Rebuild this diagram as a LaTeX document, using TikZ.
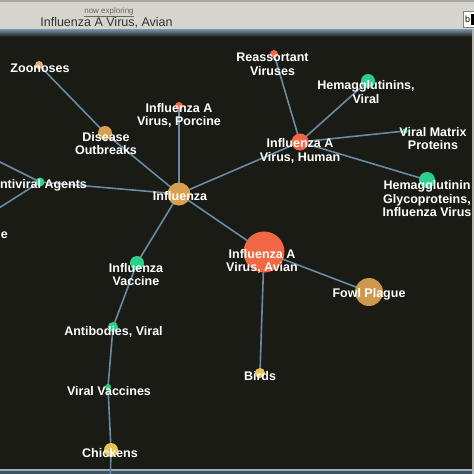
\documentclass[tikz,border=0pt]{standalone}
\usepackage{fontspec}
\setmainfont{Liberation Sans}
\pgfdeclarelayer{bg}
\pgfdeclarelayer{edges}
\pgfsetlayers{bg,edges,main}
\definecolor{bgdark}{HTML}{1B1B15}
\definecolor{barc}{HTML}{D5D5CD}
\definecolor{edgec}{HTML}{6A8AA2}
\definecolor{tanc}{HTML}{D9A052}
\definecolor{redc}{HTML}{F26844}
\definecolor{greenc}{HTML}{2ECF8C}
\definecolor{yellc}{HTML}{E8C452}
\begin{document}
\begin{tikzpicture}[x=1pt,y=-1pt,
  dot/.style={circle,inner sep=0pt,minimum size=#1},
  lbl/.style={text=white,font=\bfseries\fontsize{12.5}{13.5}\selectfont,align=center,inner sep=0pt},
  edge/.style={draw=edgec,line width=1.6pt}]
\useasboundingbox (0,0) rectangle (474,474);
\begin{pgfonlayer}{bg}
  \fill[bgdark] (0,0) rectangle (474,474);
  \fill[barc] (0,0) rectangle (474,29);
  \fill[gray!70] (0,0) rectangle (474,1.5);
  \shade[top color=edgec!90!white, bottom color=bgdark] (0,29) rectangle (474,37);
  \fill[edgec!60!black] (0,469) rectangle (474,474);
  \fill[edgec!70!white] (0,469) rectangle (474,470.5);
  \fill[barc!85!black] (471.5,29) rectangle (474,474);
  \draw[gray, fill=white] (463.5,11.5) rectangle (475,27.5);
  \fill[black] (471,14) rectangle (474,25);
\end{pgfonlayer}
% header texts
\node[text=gray!80!black, font=\fontsize{8}{9}\selectfont, inner sep=0pt] (nowexp) at (109,11) {now exploring};
\draw[gray!80!black, line width=0.5pt] (nowexp.south west) ++(0,1) -- ([yshift=-1pt]nowexp.south east);
\node[text=black!80, font=\fontsize{12.5}{13}\selectfont, inner sep=0pt] (title) at (106.5,22.5) {Influenza A Virus, Avian};
\node[font=\fontsize{9}{10}\selectfont, inner sep=0pt] (bbox) at (467.5,19.5) {b};

% dots
\node[dot=8, fill=tanc!85!white] (zoo) at (39,65) {};
\node[dot=14, fill=tanc] (dis) at (105,133) {};
\node[dot=8, fill=redc] (porc) at (179,106) {};
\node[dot=9, fill=greenc] (anti) at (40,182) {};
\node[dot=23, fill=tanc] (infl) at (179,194) {};
\node[dot=8, fill=redc] (reas) at (274,54) {};
\node[dot=14, fill=greenc] (hemv) at (368,81) {};
\node[dot=5, fill=greenc] (vmp) at (405,131) {};
\node[dot=17, fill=redc] (hum) at (300,142) {};
\node[dot=16, fill=greenc] (hemg) at (427,180) {};
\node[dot=41, fill=redc] (avian) at (264,252) {};
\node[dot=28, fill=tanc!95!black] (fowl) at (369,292) {};
\node[dot=10, fill=yellc] (birds) at (260,373) {};
\node[dot=14, fill=greenc] (vacc) at (137,263) {};
\node[dot=10, fill=greenc] (antib) at (113,327) {};
\node[dot=6, fill=greenc] (vvac) at (108,387) {};
\node[dot=14, fill=yellc] (chick) at (111,450) {};
\coordinate (offA) at (-20,152);
\coordinate (offB) at (-20,220);
\coordinate (offC) at (110,490);

% edges
\begin{pgfonlayer}{edges}
  \draw[edge] (zoo.center) -- (dis.center);
  \draw[edge] (dis.center) -- (infl.center);
  \draw[edge] (porc.center) -- (infl.center);
  \draw[edge] (anti.center) -- (infl.center);
  \draw[edge] (offA) -- (anti.center);
  \draw[edge] (offB) -- (anti.center);
  \draw[edge] (infl.center) -- (hum.center);
  \draw[edge] (infl.center) -- (avian.center);
  \draw[edge] (infl.center) -- (vacc.center);
  \draw[edge] (vacc.center) -- (antib.center);
  \draw[edge] (antib.center) -- (vvac.center);
  \draw[edge] (vvac.center) -- (chick.center);
  \draw[edge] (chick.center) -- (offC);
  \draw[edge] (hum.center) -- (reas.center);
  \draw[edge] (hum.center) -- (hemv.center);
  \draw[edge] (hum.center) -- (vmp.center);
  \draw[edge] (hum.center) -- (hemg.center);
  \draw[edge] (avian.center) -- (fowl.center);
  \draw[edge] (avian.center) -- (birds.center);
\end{pgfonlayer}

% labels
\node[lbl] (lzoo) at (40,68) {Zoonoses};
\node[lbl] (ldis) at (106,143.5) {Disease\\Outbreaks};
\node[lbl] (lporc) at (179,115.5) {Influenza A\\Virus, Porcine};
\node[lbl] (lanti) at (39,185) {Antiviral Agents};
\node[lbl] (linfl) at (180,196) {Influenza};
\node[lbl] (lreas) at (272.5,64.5) {Reassortant\\Viruses};
\node[lbl] (lhemv) at (366,92) {Hemagglutinins,\\Viral};
\node[lbl] (lvmp) at (433,138.5) {Viral Matrix\\Proteins};
\node[lbl] (lhum) at (300,151) {Influenza A\\Virus, Human};
\node[lbl] (lhemg) at (427,199) {Hemagglutinin\\Glycoproteins,\\Influenza Virus};
\node[lbl] (lavian) at (262,261.5) {Influenza A\\Virus, Avian};
\node[lbl] (lfowl) at (369,294) {Fowl Plague};
\node[lbl] (lbirds) at (260,376) {Birds};
\node[lbl] (lvacc) at (136,274.5) {Influenza\\Vaccine};
\node[lbl] (lantib) at (113.5,332) {Antibodies, Viral};
\node[lbl] (lvvac) at (109,391) {Viral Vaccines};
\node[lbl] (lchick) at (110,453) {Chickens};
\node[lbl, anchor=east] (le) at (8,235) {e};
\end{tikzpicture}
\end{document}
